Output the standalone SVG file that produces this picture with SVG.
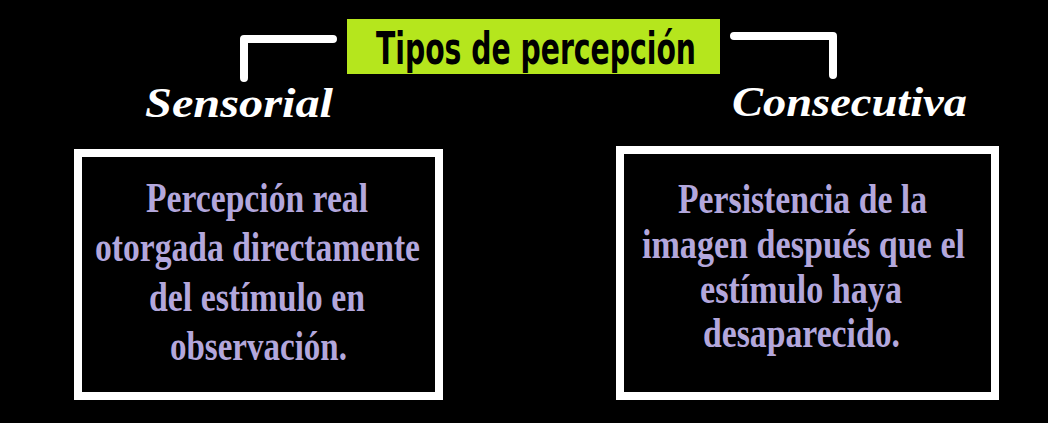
<svg xmlns="http://www.w3.org/2000/svg" width="1048" height="423" viewBox="0 0 1048 423">
<style>
.conn{fill:none;stroke:#fff;stroke-width:8;stroke-linecap:round;stroke-linejoin:round}
.box{fill:#000;stroke:#fff;stroke-width:8}
.title{font-family:"DejaVu Sans Condensed","Liberation Sans Narrow","Liberation Sans",sans-serif;font-weight:bold;font-size:45px;fill:#000}
.head{font-family:"Liberation Serif",serif;font-weight:bold;font-style:italic;font-size:43px;fill:#fff}
.body{font-family:"Liberation Serif",serif;font-weight:bold;font-size:43px;fill:#b3a7dc}
</style>
<rect width="1048" height="423" fill="#000"/>
<g id="connectors">
<path class="conn" d="M244 78 V39 H333"/>
<path class="conn" d="M734 36 H833 V75"/>
</g>
<g id="title">
<rect x="347" y="19" width="373" height="55" fill="#b5e61d"/>
<text class="title" x="376" y="64" textLength="320" lengthAdjust="spacingAndGlyphs">Tipos de percepción</text>
</g>
<g id="sensorial">
<text class="head" x="145" y="117" textLength="188" lengthAdjust="spacingAndGlyphs">Sensorial</text>
<rect class="box" x="78" y="153" width="361" height="243"/>
<text class="body" x="146" y="212" textLength="222" lengthAdjust="spacingAndGlyphs">Percepción real</text>
<text class="body" x="95" y="261" textLength="325" lengthAdjust="spacingAndGlyphs">otorgada directamente</text>
<text class="body" x="149" y="311" textLength="216" lengthAdjust="spacingAndGlyphs">del estímulo en</text>
<text class="body" x="170" y="360" textLength="177" lengthAdjust="spacingAndGlyphs">observación.</text>
</g>
<g id="consecutiva">
<text class="head" x="732" y="116" textLength="235" lengthAdjust="spacingAndGlyphs">Consecutiva</text>
<rect class="box" x="620" y="150" width="375" height="246"/>
<text class="body" x="678" y="213" textLength="249" lengthAdjust="spacingAndGlyphs">Persistencia de la</text>
<text class="body" x="642" y="258" textLength="323" lengthAdjust="spacingAndGlyphs">imagen después que el</text>
<text class="body" x="700" y="303" textLength="202" lengthAdjust="spacingAndGlyphs">estímulo haya</text>
<text class="body" x="703" y="347" textLength="197" lengthAdjust="spacingAndGlyphs">desaparecido.</text>
</g>
</svg>
